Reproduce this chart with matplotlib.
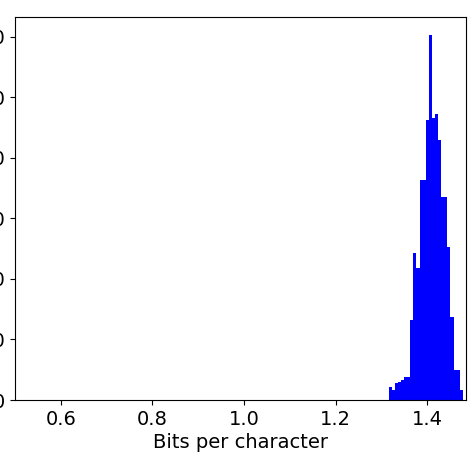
import matplotlib
matplotlib.use("Agg")
import matplotlib.pyplot as plt
import numpy as np

bin_start = 1.316
bin_width = 0.00675
px_heights = [13, 10, 17, 18, 20, 23, 23, 80, 147, 132, 220, 220, 280, 365,
              282, 286, 260, 203, 203, 153, 83, 30, 30, 10]
counts = [h * 100 / 60.5 for h in px_heights]
edges = [bin_start + i * bin_width for i in range(len(counts) + 1)]

fig = plt.figure(figsize=(4.74, 4.74), dpi=100)
ax = fig.add_axes([15/474, (474-400)/474, (466-15)/474, (400-17)/474])
ax.bar(edges[:-1], counts, width=bin_width, align='edge', color='#0000ff', edgecolor='none')
ax.set_xlim(0.5, 1.485)
ax.set_ylim(0, 633)
ax.set_xticks([0.6, 0.8, 1.0, 1.2, 1.4])
ax.set_yticks([0, 100, 200, 300, 400, 500, 600])
ax.tick_params(labelsize=14)
ax.set_xlabel("Bits per character", fontsize=14, labelpad=3)
fig.savefig("out.png", dpi=100)
